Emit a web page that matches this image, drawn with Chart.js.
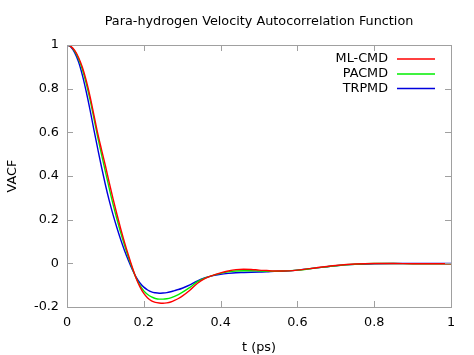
<!DOCTYPE html>
<html>
<head>
<meta charset="utf-8">
<script src="https://cdn.jsdelivr.net/npm/chart.js@4.4.1/dist/chart.umd.min.js"></script>
<style>
  html, body { margin: 0; padding: 0; background: #fff; }
  #wrap { width: 474px; height: 355px; }
</style>
</head>
<body>
<div id="wrap"><canvas id="c" width="474" height="355"></canvas></div>
<script>
const titleText = "Para-hydrogen Velocity Autocorrelation Function";
const xTitle = "t (ps)";
const yTitle = "VACF";
const seriesNames = ["ML-CMD", "PACMD", "TRPMD"];
const seriesColors = ["#ff0000", "#00ee00", "#0000dd"];
const xTicks = [0, 0.2, 0.4, 0.6, 0.8, 1];
const yTicks = [-0.2, 0, 0.2, 0.4, 0.6, 0.8, 1];

const times = [0, 0.01, 0.02, 0.03, 0.04, 0.05, 0.06, 0.07, 0.08, 0.09, 0.10,
  0.11, 0.12, 0.13, 0.14, 0.15, 0.16, 0.17, 0.18, 0.19, 0.20,
  0.21, 0.22, 0.23, 0.24, 0.25, 0.26, 0.27, 0.28, 0.29, 0.30,
  0.32, 0.34, 0.36, 0.38, 0.40, 0.42, 0.44, 0.46, 0.48, 0.50, 0.52, 0.54, 0.56,
  0.60, 0.65, 0.70, 0.75, 0.80, 0.85, 0.90, 0.95, 1.0];

const mlcmd = [1, 0.994, 0.975, 0.943, 0.898, 0.838, 0.765, 0.68, 0.595, 0.52, 0.447,
  0.37, 0.295, 0.225, 0.158, 0.095, 0.037, -0.018, -0.068, -0.108, -0.138,
  -0.159, -0.172, -0.179, -0.182, -0.183, -0.181, -0.177, -0.170, -0.161, -0.150,
  -0.123, -0.091, -0.069, -0.055, -0.044, -0.035, -0.029, -0.027, -0.028, -0.031, -0.033, -0.035, -0.035,
  -0.031, -0.020, -0.010, -0.003, -0.001, -0.001, -0.002, -0.002, -0.002];

const pacmd = [1, 0.993, 0.972, 0.937, 0.888, 0.825, 0.75, 0.665, 0.578, 0.498, 0.42,
  0.343, 0.27, 0.203, 0.14, 0.082, 0.028, -0.022, -0.067, -0.101, -0.126,
  -0.143, -0.154, -0.161, -0.164, -0.164, -0.162, -0.158, -0.151, -0.143, -0.133,
  -0.110, -0.084, -0.067, -0.055, -0.046, -0.039, -0.035, -0.034, -0.034, -0.035, -0.036, -0.036, -0.035,
  -0.031, -0.021, -0.011, -0.004, -0.001, -0.001, -0.002, -0.002, -0.002];

const trpmd = [1, 0.991, 0.965, 0.923, 0.862, 0.787, 0.703, 0.612, 0.525, 0.44, 0.36,
  0.287, 0.222, 0.163, 0.108, 0.058, 0.013, -0.028, -0.063, -0.09, -0.109,
  -0.122, -0.131, -0.135, -0.137, -0.136, -0.134, -0.130, -0.125, -0.120, -0.114,
  -0.099, -0.080, -0.066, -0.056, -0.050, -0.046, -0.043, -0.042, -0.041, -0.040, -0.039, -0.037, -0.036,
  -0.031, -0.021, -0.011, -0.005, -0.002, -0.001, -0.001, -0.001, -0.001];

const seriesValues = [mlcmd, pacmd, trpmd];

const FONT = "'DejaVu Sans', sans-serif";
const FS = 12.8;
const BORDER = "#a0a0a0";

const datasets = seriesNames.map((name, i) => ({
  label: name,
  data: times.map((t, j) => ({ x: t, y: seriesValues[i][j] })),
  borderColor: seriesColors[i],
  backgroundColor: seriesColors[i],
  borderWidth: 1.4,
  pointRadius: 0,
  cubicInterpolationMode: 'monotone',
  fill: false
}));

const framePlugin = {
  id: 'frame',
  afterDraw(chart) {
    const ctx = chart.ctx;
    const a = chart.chartArea;
    const xs = chart.scales.x, ys = chart.scales.y;
    ctx.save();
    ctx.strokeStyle = BORDER;
    ctx.lineWidth = 1;
    ctx.strokeRect(Math.round(a.left) + 0.5, Math.round(a.top) + 0.5,
      Math.round(a.right - a.left), Math.round(a.bottom - a.top));
    const TL = 6;
    ctx.beginPath();
    xTicks.forEach(v => {
      const px = Math.round(xs.getPixelForValue(v)) + 0.5;
      if (v === xTicks[0] || v === xTicks[xTicks.length - 1]) return;
      ctx.moveTo(px, a.bottom); ctx.lineTo(px, a.bottom - TL);
      ctx.moveTo(px, a.top); ctx.lineTo(px, a.top + TL);
    });
    yTicks.forEach(v => {
      const py = Math.round(ys.getPixelForValue(v)) + 0.5;
      if (v === yTicks[0] || v === yTicks[yTicks.length - 1]) return;
      ctx.moveTo(a.left, py); ctx.lineTo(a.left + TL, py);
      ctx.moveTo(a.right, py); ctx.lineTo(a.right - TL, py);
    });
    ctx.stroke();

    // title
    ctx.fillStyle = "#000";
    ctx.font = FS + "px " + FONT;
    ctx.textAlign = "center";
    ctx.textBaseline = "middle";
    ctx.fillText(titleText, (a.left + a.right) / 2, 22);

    // legend
    const rowY = [59, 74, 88.5];
    chart.data.datasets.forEach((ds, i) => {
      ctx.fillStyle = "#000";
      ctx.textAlign = "right";
      ctx.fillText(ds.label, 388, rowY[i]);
      ctx.strokeStyle = ds.borderColor;
      ctx.lineWidth = 1.4;
      ctx.beginPath();
      ctx.moveTo(397, rowY[i]);
      ctx.lineTo(435, rowY[i]);
      ctx.stroke();
    });
    ctx.restore();
  }
};

new Chart(document.getElementById('c'), {
  type: 'line',
  data: { datasets },
  options: {
    responsive: false,
    animation: false,
    devicePixelRatio: 1,
    layout: { padding: { left: 0, right: 23, top: 45, bottom: 0 } },
    plugins: { legend: { display: false }, tooltip: { enabled: false }, title: { display: false } },
    scales: {
      x: {
        type: 'linear',
        min: 0, max: 1,
        afterBuildTicks: s => { s.ticks = xTicks.map(v => ({ value: v })); },
        afterFit: s => { s.height = 48; },
        grid: { display: false, drawTicks: false },
        border: { display: false },
        ticks: {
          padding: 8,
          color: "#000",
          font: { family: FONT, size: FS },
          maxRotation: 0,
          callback: v => String(Math.round(v * 10) / 10)
        },
        title: {
          display: true, text: xTitle, color: "#000",
          font: { family: FONT, size: FS },
          padding: { top: 6, bottom: 0 }
        }
      },
      y: {
        type: 'linear',
        min: -0.2, max: 1,
        afterBuildTicks: s => { s.ticks = yTicks.map(v => ({ value: v })); },
        afterFit: s => { s.width = 67; },
        grid: { display: false, drawTicks: false },
        border: { display: false },
        ticks: {
          padding: 8,
          color: "#000",
          font: { family: FONT, size: FS },
          callback: v => String(Math.round(v * 10) / 10)
        },
        title: {
          display: true, text: yTitle, color: "#000",
          font: { family: FONT, size: FS },
          padding: { top: 5, bottom: 0 }
        }
      }
    }
  },
  plugins: [framePlugin]
});
</script>
</body>
</html>
